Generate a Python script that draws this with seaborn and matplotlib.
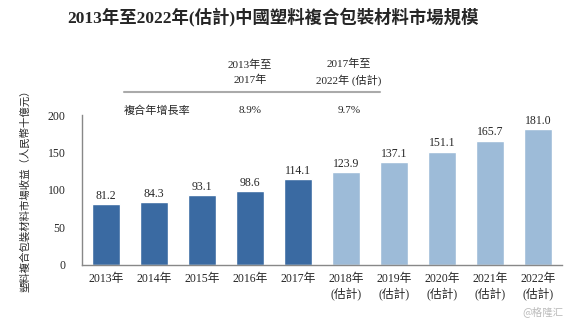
import numpy as np
import pandas as pd
import matplotlib
matplotlib.use('Agg')
import matplotlib.pyplot as plt
import seaborn as sns

years = ['2013年', '2014年', '2015年', '2016年', '2017年',
         '2018年\n(估計)', '2019年\n(估計)', '2020年\n(估計)', '2021年\n(估計)', '2022年\n(估計)']
values = [81.2, 84.3, 93.1, 98.6, 114.1, 123.9, 137.1, 151.1, 165.7, 181.0]
kind = ['actual'] * 5 + ['forecast'] * 5
cagr_periods = ['2013年至\n2017年', '2017年至\n2022年 (估計)']
cagr_values = ['8.9%', '9.7%']

dark = '#3a6aa2'
light = '#9dbbd8'

sns.set_style('white')
plt.rcParams['font.family'] = ['Liberation Serif', 'Noto Sans CJK TC', 'DejaVu Sans']

df = pd.DataFrame({'year': years, 'value': values, 'kind': kind})

fig = plt.figure(figsize=(5.72, 3.21), dpi=100)
ax = fig.add_axes([0.1434, 0.1745, 0.8391, 0.4672])
sns.barplot(data=df, x='year', y='value', hue='kind',
            palette={'actual': dark, 'forecast': light}, saturation=1,
            width=0.6, dodge=False, legend=False, ax=ax)
ax.set_xlim(-0.5, len(years) - 0.5)
ax.set_ylim(0, 200)
ax.set_yticks([0, 50, 100, 150, 200])
ax.set_xlabel('')
ax.set_ylabel('')
for s in ['top', 'right']:
    ax.spines[s].set_visible(False)
for s in ['left', 'bottom']:
    ax.spines[s].set_color('#888888')
    ax.spines[s].set_linewidth(1.0)
ax.tick_params(axis='y', direction='in', length=4, color='#888888',
               labelsize=8.5, pad=12)
ax.tick_params(axis='x', length=0, labelsize=8.5, pad=6)

for i, v in enumerate(values):
    ax.text(i, v + 3, f'{v:.1f}', ha='center', va='bottom', fontsize=8.5)

fig.text(0.044, 0.415, '塑料複合包裝材料市場收益（人民幣十億元）', rotation=90,
         ha='center', va='center', fontsize=7.5, family=['Noto Sans CJK TC'])

fig.text(0.478, 0.945, '2013年至2022年(估計)中國塑料複合包裝材料市場規模',
         ha='center', va='center', fontsize=12.5, fontweight='bold',
         family=['Liberation Serif', 'Noto Sans CJK TC'])

# CAGR table
xs = [0.437, 0.610]
for x, p, c in zip(xs, cagr_periods, cagr_values):
    fig.text(x, 0.775, p, ha='center', va='center', fontsize=8, linespacing=1.6)
    fig.text(x, 0.655, c, ha='center', va='center', fontsize=8)
fig.text(0.217, 0.655, '複合年增長率', ha='left', va='center', fontsize=8)
fig.add_artist(plt.Line2D([0.217, 0.665], [0.713, 0.713], color='#aaaaaa', lw=1.5,
                          transform=fig.transFigure))

fig.text(0.985, 0.03, '@格隆汇', ha='right', va='center', fontsize=7.5,
         color='#bbbbbb', family=['Noto Sans CJK SC'])

fig.savefig('out.png', dpi=100)
